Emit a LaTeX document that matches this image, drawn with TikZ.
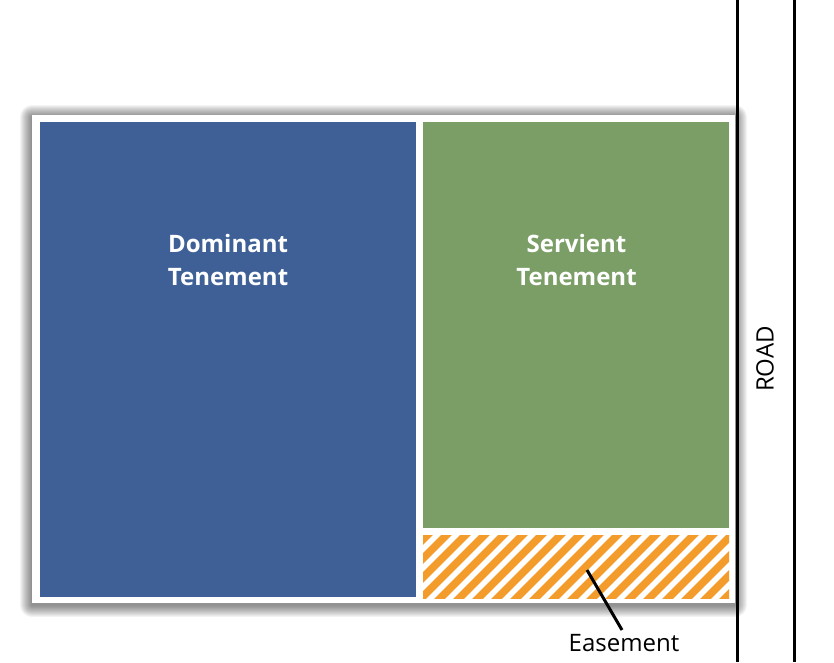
\documentclass[tikz,border=0pt]{standalone}
\usepackage{fontspec}
\setmainfont{Open Sans}
\definecolor{domblue}{RGB}{62,96,150}
\definecolor{servgreen}{RGB}{122,158,102}
\definecolor{easeorange}{RGB}{243,156,44}
\tikzset{
  tenelabel/.style={anchor=base, text=white, font=\fontsize{24}{28}\selectfont\bfseries, inner sep=0pt},
  plainlabel/.style={anchor=base, text=black, font=\fontsize{24}{28}\selectfont, inner sep=0pt},
  roadline/.style={line width=3pt, black},
  leader/.style={line width=3pt, black},
  hatchline/.style={line width=7.5pt, easeorange}
}
\begin{document}
\begin{tikzpicture}[x=1pt,y=-1pt]
\useasboundingbox (0,0) rectangle (834,662);
\fill[white] (0,0) rectangle (834,662);
% shadow
\foreach \i in {1,...,12}{
  \fill[black, opacity=0.045, rounded corners=\i pt] (32-\i,115-\i+2) rectangle (735+\i,603+\i+2);
}
% frame
\fill[white] (32,115) rectangle (735,603);
% dominant
\fill[domblue] (40,122) rectangle (416,597);
% servient
\fill[servgreen] (423,122) rectangle (729,528);
% easement hatch
\begin{scope}
  \clip (423,535) rectangle (729,598);
  \foreach \k in {0,...,22}{
    \draw[hatchline] ({962.5+19*\k-535+100},-100+535) -- ({962.5+19*\k-598-100},100+598);
  }
\end{scope}
% road
\draw[roadline] (737.5,0) -- (737.5,662);
\draw[roadline] (794.5,0) -- (794.5,662);
\node[plainlabel, rotate=90, anchor=center] (road) at (765,359) {ROAD};
% labels
\node[tenelabel] (dom1) at (228,252) {Dominant};
\node[tenelabel] (dom2) at (228,285) {Tenement};
\node[tenelabel] (serv1) at (576.5,252) {Servient};
\node[tenelabel] (serv2) at (576.5,285) {Tenement};
\node[plainlabel] (ease) at (624,651) {Easement};
\coordinate (leadtop) at (587,570);
\coordinate (leadbot) at (622,630);
\draw[leader] (leadtop) -- (leadbot);
\end{tikzpicture}
\end{document}
